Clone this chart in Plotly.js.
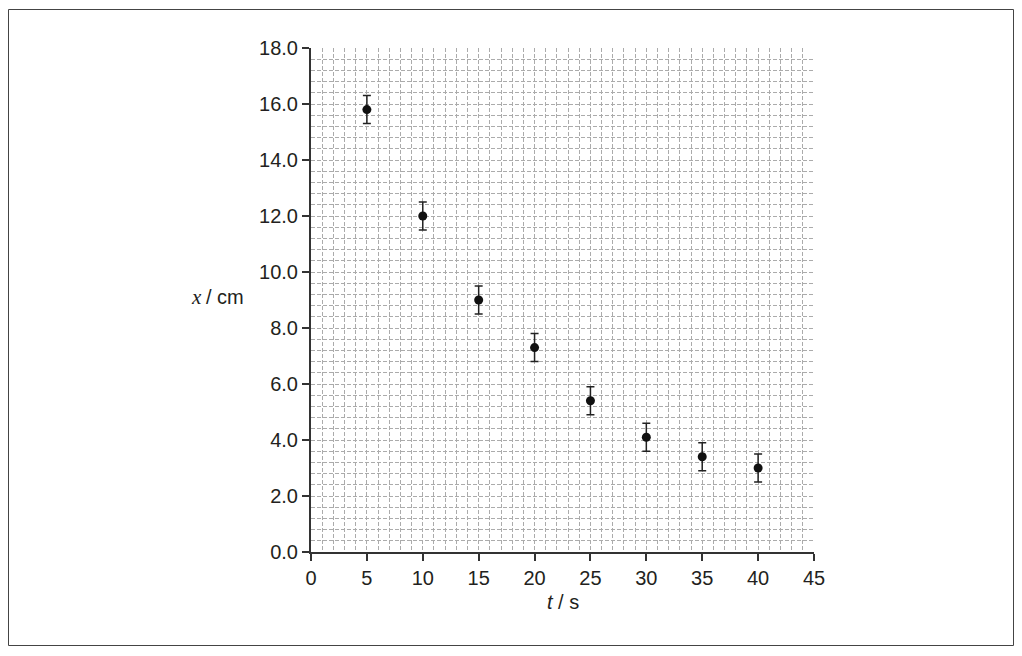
<!DOCTYPE html>
<html>
<head>
<meta charset="utf-8">
<script src="https://cdn.plot.ly/plotly-3.0.1.min.js"></script>
<style>html,body{margin:0;padding:0;background:#fff;}#chart{width:1022px;height:656px;}</style>
</head>
<body>
<div id="chart"></div>
<script>
const tValues = [5, 10, 15, 20, 25, 30, 35, 40];
const xValues = [15.8, 12.0, 9.0, 7.3, 5.4, 4.1, 3.4, 3.0];
const xErrors = [0.5, 0.5, 0.5, 0.5, 0.5, 0.5, 0.5, 0.5];
const xTickVals = [0, 5, 10, 15, 20, 25, 30, 35, 40, 45];
const yTickVals = [0, 2, 4, 6, 8, 10, 12, 14, 16, 18];
const yTickText = yTickVals.map(v => v.toFixed(1));

const L = 311, R = 814, T = 48, B = 552;
const W = R - L, H = B - T;
const px = p => (p - L) / W;
const py = p => (B - p) / H;

const gridStyle = {color: '#ababab', dash: '4px,2px'};
const font = {family: 'Liberation Sans, Arial, sans-serif', size: 20, color: '#231f20'};

const trace = {
  x: tValues, y: xValues, type: 'scatter', mode: 'markers',
  marker: {color: '#111', size: 9},
  error_y: {type: 'data', array: xErrors, visible: true, color: '#222', thickness: 1.5, width: 4},
  hoverinfo: 'none', showlegend: false
};

const layout = {
  width: 1022, height: 656,
  margin: {l: L, r: 1022 - R, t: T, b: 656 - B},
  paper_bgcolor: '#fff', plot_bgcolor: '#fff',
  font: font,
  xaxis: {
    range: [0, 45], tickvals: xTickVals, ticktext: xTickVals.map(String),
    ticks: 'outside', ticklen: 7, tickwidth: 2, tickcolor: '#333',
    showline: true, linecolor: '#333', linewidth: 2, zeroline: false,
    showgrid: true, gridcolor: gridStyle.color, griddash: gridStyle.dash, gridwidth: 1,
    minor: {dtick: 1, tick0: 0, showgrid: true, gridcolor: gridStyle.color, griddash: gridStyle.dash, gridwidth: 1, ticks: ''},
    tickfont: font, fixedrange: true
  },
  yaxis: {
    range: [0, 18], tickvals: yTickVals, ticktext: yTickText,
    ticks: 'outside', ticklen: 7, tickwidth: 2, tickcolor: '#333',
    showline: true, linecolor: '#333', linewidth: 2, zeroline: false,
    showgrid: true, gridcolor: gridStyle.color, griddash: gridStyle.dash, gridwidth: 1,
    minor: {dtick: 0.4, tick0: 0, showgrid: true, gridcolor: gridStyle.color, griddash: gridStyle.dash, gridwidth: 1, ticks: ''},
    tickfont: font, fixedrange: true
  },
  annotations: [
    {xref: 'paper', yref: 'paper', x: px(189), y: py(297), xanchor: 'left', yanchor: 'middle',
     text: "<i>x</i>", showarrow: false, font: {family: 'Liberation Serif, Times New Roman, serif', size: 21, color: '#231f20'}},
    {xref: 'paper', yref: 'paper', x: px(246), y: py(297), xanchor: 'right', yanchor: 'middle',
     text: "/ cm", showarrow: false, font: font},
    {xref: 'paper', yref: 'paper', x: 0.5, y: py(602), xanchor: 'center', yanchor: 'middle',
     text: "<i>t</i> / s", showarrow: false, font: font}
  ],
  shapes: [
    {type: 'rect', xref: 'paper', yref: 'paper', x0: px(8.5), x1: px(1013.5), y0: py(645.5), y1: py(9.5),
     line: {color: '#444', width: 1}, fillcolor: 'rgba(0,0,0,0)', layer: 'below'}
  ]
};

Plotly.newPlot('chart', [trace], layout, {staticPlot: true, displayModeBar: false});
</script>
</body>
</html>
